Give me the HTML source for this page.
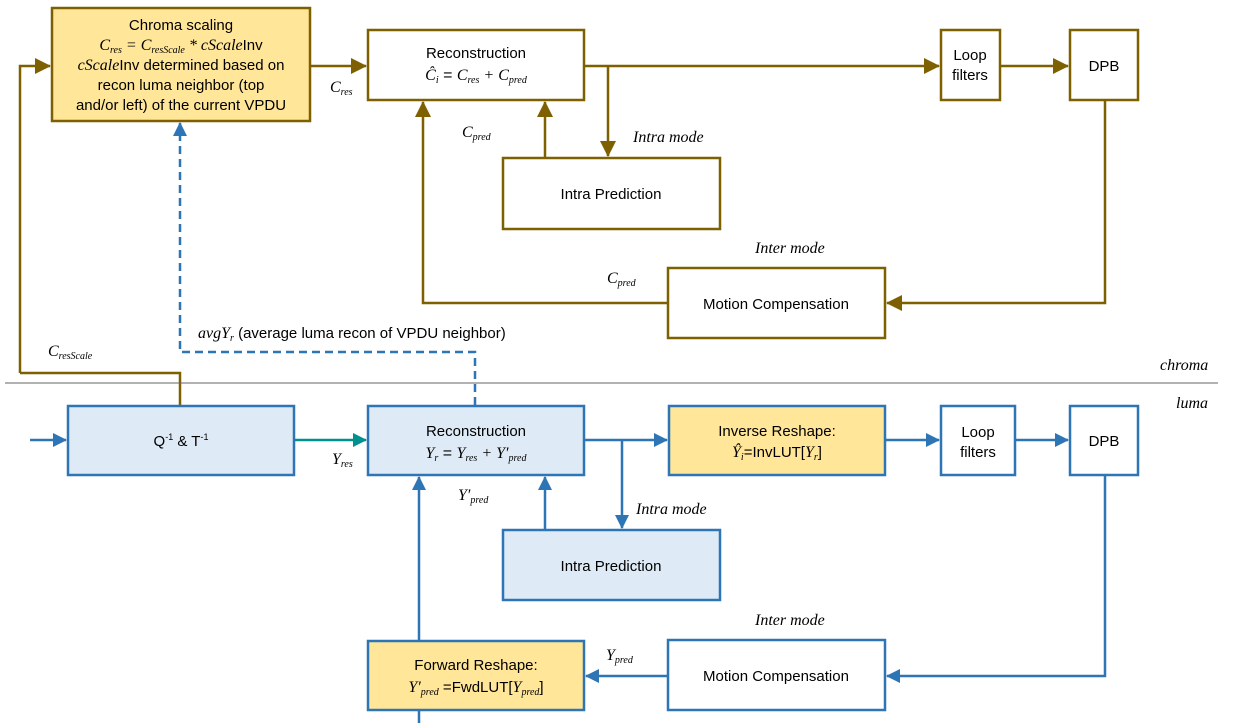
<!DOCTYPE html>
<html><head><meta charset="utf-8"><style>
body{margin:0;background:#fff}
svg text{font-family:"Liberation Sans",sans-serif;font-size:15px;fill:#000}
.m{font-family:"Liberation Serif",serif;font-style:italic;font-size:16px}
</style></head><body>
<svg width="1233" height="723" viewBox="0 0 1233 723">
<defs>
<marker id="u" markerWidth="14" markerHeight="14" refX="13" refY="7" orient="auto" markerUnits="userSpaceOnUse" viewBox="0 0 14 14"><path d="M0,0L14,7L0,14z" fill="#2e75b6"/></marker>
<marker id="bb" markerWidth="16" markerHeight="16" refX="15" refY="8" orient="auto" markerUnits="userSpaceOnUse" viewBox="0 0 16 16"><path d="M0,0L16,8L0,16z" fill="#7f6000"/></marker>
<marker id="t" markerWidth="14" markerHeight="14" refX="13" refY="7" orient="auto" markerUnits="userSpaceOnUse" viewBox="0 0 14 14"><path d="M0,0L14,7L0,14z" fill="#00918f"/></marker>
</defs>
<g fill="none" stroke="#7f6000" stroke-width="2.5">
<path d="M20,373V66H50" marker-end="url(#bb)"/>
<path d="M180,405V373H20"/>
<path d="M310,66H366" marker-end="url(#bb)"/>
<path d="M584,66H939" marker-end="url(#bb)"/>
<path d="M1000,66H1068" marker-end="url(#bb)"/>
<path d="M608,66V156" marker-end="url(#bb)"/>
<path d="M545,158V102" marker-end="url(#bb)"/>
<path d="M668,303H423V102" marker-end="url(#bb)"/>
<path d="M1105,100V303H887" marker-end="url(#bb)"/>
</g>
<g fill="none" stroke="#2e75b6" stroke-width="2.5">
<path d="M475,405V352H180V123" stroke-dasharray="8,5" marker-end="url(#u)"/>
<path d="M30,440H66" marker-end="url(#u)"/>
<path d="M584,440H667" marker-end="url(#u)"/>
<path d="M885,440H939" marker-end="url(#u)"/>
<path d="M1015,440H1068" marker-end="url(#u)"/>
<path d="M622,440V528" marker-end="url(#u)"/>
<path d="M545,530V477" marker-end="url(#u)"/>
<path d="M419,723V477" marker-end="url(#u)"/>
<path d="M1105,475V676H887" marker-end="url(#u)"/>
<path d="M668,676H586" marker-end="url(#u)"/>
</g>
<path d="M294,440H366" stroke="#00918f" stroke-width="2.5" fill="none" marker-end="url(#t)"/>
<line x1="5" y1="383" x2="1218" y2="383" stroke="#666" stroke-width="1"/>
<g stroke="#7f6000" stroke-width="2.5">
<rect x="52" y="8" width="258" height="113" fill="#ffe699"/>
<rect x="368" y="30" width="216" height="70" fill="#fff"/>
<rect x="941" y="30" width="59" height="70" fill="#fff"/>
<rect x="1070" y="30" width="68" height="70" fill="#fff"/>
<rect x="503" y="158" width="217" height="71" fill="#fff"/>
<rect x="668" y="268" width="217" height="70" fill="#fff"/>
</g>
<g stroke="#2e75b6" stroke-width="2.5">
<rect x="68" y="406" width="226" height="69" fill="#deebf7"/>
<rect x="368" y="406" width="216" height="69" fill="#deebf7"/>
<rect x="669" y="406" width="216" height="69" fill="#ffe699"/>
<rect x="941" y="406" width="74" height="69" fill="#fff"/>
<rect x="1070" y="406" width="68" height="69" fill="#fff"/>
<rect x="503" y="530" width="217" height="70" fill="#deebf7"/>
<rect x="668" y="640" width="217" height="70" fill="#fff"/>
<rect x="368" y="641" width="216" height="69" fill="#ffe699"/>
</g>
<g text-anchor="middle">
<text x="181" y="30">Chroma scaling</text>
<text x="181" y="50"><tspan class="m">C<tspan font-size="10" dy="3">res</tspan><tspan dy="-3"> = C</tspan><tspan font-size="10" dy="3">resScale</tspan><tspan dy="-3"> * cScale</tspan></tspan>Inv</text>
<text x="181" y="70"><tspan class="m">cScale</tspan>Inv determined based on</text>
<text x="181" y="90">recon luma neighbor (top</text>
<text x="181" y="110">and/or left) of the current VPDU</text>
<text x="476" y="58">Reconstruction</text>
<text x="476" y="80" class="m">Ĉ<tspan font-size="10" dy="3">i</tspan><tspan dy="-3" font-style="normal" font-family="Liberation Sans"> = </tspan>C<tspan font-size="10" dy="3">res</tspan><tspan dy="-3"> + C</tspan><tspan font-size="10" dy="3">pred</tspan></text>
<text x="970" y="60">Loop</text><text x="970" y="80">filters</text>
<text x="1104" y="71">DPB</text>
<text x="611" y="199">Intra Prediction</text>
<text x="776" y="309">Motion Compensation</text>
<text x="181" y="446">Q<tspan font-size="9" dy="-6">-1</tspan><tspan dy="6"> &amp; T</tspan><tspan font-size="9" dy="-6">-1</tspan></text>
<text x="476" y="436">Reconstruction</text>
<text x="476" y="458" class="m">Y<tspan font-size="10" dy="3">r</tspan><tspan dy="-3" font-style="normal" font-family="Liberation Sans"> = </tspan>Y<tspan font-size="10" dy="3">res</tspan><tspan dy="-3"> + Y′</tspan><tspan font-size="10" dy="3">pred</tspan></text>
<text x="777" y="436">Inverse Reshape:</text>
<text x="777" y="457"><tspan class="m">Ŷ<tspan font-size="10" dy="3">i</tspan></tspan><tspan dy="-3">=InvLUT[</tspan><tspan class="m">Y<tspan font-size="10" dy="3">r</tspan></tspan><tspan dy="-3">]</tspan></text>
<text x="978" y="437">Loop</text><text x="978" y="457">filters</text>
<text x="1104" y="446">DPB</text>
<text x="611" y="571">Intra Prediction</text>
<text x="776" y="681">Motion Compensation</text>
<text x="476" y="670">Forward Reshape:</text>
<text x="476" y="692"><tspan class="m">Y′<tspan font-size="10" dy="3">pred</tspan></tspan><tspan dy="-3"> =FwdLUT[</tspan><tspan class="m">Y<tspan font-size="10" dy="3">pred</tspan></tspan><tspan dy="-3">]</tspan></text>
</g>
<text x="330" y="92" class="m">C<tspan font-size="10" dy="3">res</tspan></text>
<text x="462" y="137" class="m">C<tspan font-size="10" dy="3">pred</tspan></text>
<text x="633" y="142" class="m">Intra mode</text>
<text x="755" y="253" class="m">Inter mode</text>
<text x="607" y="283" class="m">C<tspan font-size="10" dy="3">pred</tspan></text>
<text x="48" y="356" class="m">C<tspan font-size="10" dy="3">resScale</tspan></text>
<text x="1160" y="370" class="m">chroma</text>
<text x="1176" y="408" class="m">luma</text>
<text x="332" y="464" class="m">Y<tspan font-size="10" dy="3">res</tspan></text>
<text x="458" y="500" class="m">Y′<tspan font-size="10" dy="3">pred</tspan></text>
<text x="636" y="514" class="m">Intra mode</text>
<text x="755" y="625" class="m">Inter mode</text>
<text x="606" y="660" class="m">Y<tspan font-size="10" dy="3">pred</tspan></text>
<text x="198" y="338"><tspan class="m">avgY<tspan font-size="10" dy="3">r</tspan></tspan><tspan dy="-3"> (average luma recon of VPDU neighbor)</tspan></text>
</svg>
</body></html>
